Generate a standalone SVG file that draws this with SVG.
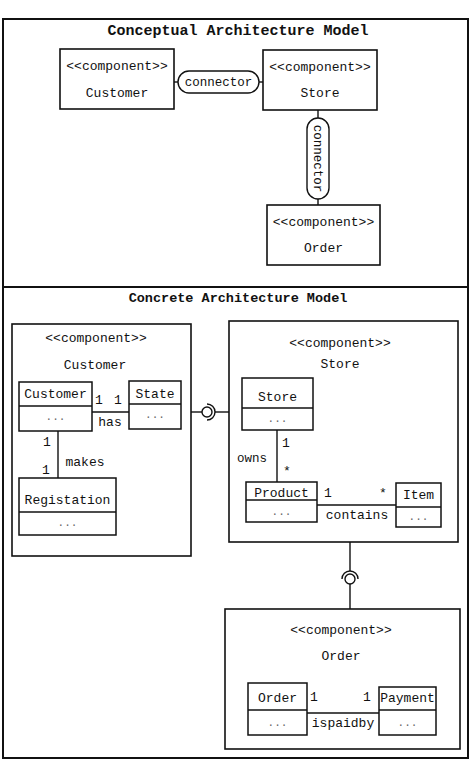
<svg xmlns="http://www.w3.org/2000/svg" width="474" height="768" viewBox="0 0 474 768">
<style>
text{font-family:"Liberation Mono","DejaVu Sans Mono",monospace;font-size:13px;fill:#111;text-anchor:middle}
.title{font-weight:bold;font-size:15px}
.t2{font-weight:bold;font-size:13.5px}
.dots{fill:#666;font-size:11px}
.lbl{font-size:12.5px}
.box{fill:#fff;stroke:#111;stroke-width:1.6}
.cls{fill:#fff;stroke:#111;stroke-width:1.5}
.ln{fill:none;stroke:#111;stroke-width:1.4}
.pill{fill:#fff;stroke:#111;stroke-width:1.4}
</style>
<rect x="0" y="0" width="474" height="768" fill="#fff"/>
<rect x="3" y="19" width="465" height="739" fill="none" stroke="#111" stroke-width="2"/>
<line x1="3" y1="287" x2="468" y2="287" stroke="#111" stroke-width="2"/>
<text class="title" x="238" y="35">Conceptual Architecture Model</text>
<text class="t2" x="238" y="302">Concrete Architecture Model</text>

<g id="c-customer">
<rect class="box" x="60" y="49" width="114" height="60"/>
<text x="117" y="70">&lt;&lt;component&gt;&gt;</text>
<text x="117" y="97">Customer</text>
</g>
<g id="c-store">
<rect class="box" x="263" y="50" width="114" height="60"/>
<text x="320" y="71">&lt;&lt;component&gt;&gt;</text>
<text x="320" y="97">Store</text>
</g>
<g id="c-order">
<rect class="box" x="267" y="205" width="113" height="60"/>
<text x="323.5" y="226">&lt;&lt;component&gt;&gt;</text>
<text x="323.5" y="252">Order</text>
</g>

<g id="customer-comp">
<rect class="box" x="12" y="324" width="179" height="232"/>
<text x="96" y="342">&lt;&lt;component&gt;&gt;</text>
<text x="95" y="369">Customer</text>
</g>
<g id="customer-class">
<rect class="cls" x="19" y="382" width="73" height="49"/>
<line class="ln" x1="19" y1="406" x2="92" y2="406"/>
<text x="55.5" y="398">Customer</text>
<text class="dots" x="55.5" y="420">...</text>
</g>
<g id="state-class">
<rect class="cls" x="129" y="381" width="52" height="48"/>
<line class="ln" x1="129" y1="404" x2="181" y2="404"/>
<text x="155" y="398">State</text>
<text class="dots" x="155" y="418">...</text>
</g>
<g id="registation-class">
<rect class="cls" x="19" y="478" width="97" height="57"/>
<line class="ln" x1="19" y1="512" x2="116" y2="512"/>
<text x="67.5" y="504">Registation</text>
<text class="dots" x="67.5" y="526">...</text>
</g>

<g id="store-comp">
<rect class="box" x="229" y="321" width="229" height="221"/>
<text x="340" y="347">&lt;&lt;component&gt;&gt;</text>
<text x="340" y="368">Store</text>
</g>
<g id="store-class">
<rect class="cls" x="242" y="378" width="71" height="52"/>
<line class="ln" x1="242" y1="408" x2="313" y2="408"/>
<text x="277.5" y="401">Store</text>
<text class="dots" x="277.5" y="422">...</text>
</g>
<g id="product-class">
<rect class="cls" x="246" y="482" width="71" height="40"/>
<line class="ln" x1="246" y1="500" x2="317" y2="500"/>
<text x="281.5" y="497">Product</text>
<text class="dots" x="281.5" y="515">...</text>
</g>
<g id="item-class">
<rect class="cls" x="396" y="483" width="45" height="44"/>
<line class="ln" x1="396" y1="507" x2="441" y2="507"/>
<text x="418.5" y="499">Item</text>
<text class="dots" x="418.5" y="520">...</text>
</g>

<g id="order-comp">
<rect class="box" x="225" y="609" width="235" height="140"/>
<text x="341" y="634">&lt;&lt;component&gt;&gt;</text>
<text x="341" y="660">Order</text>
</g>
<g id="order-class">
<rect class="cls" x="248" y="683" width="59" height="52"/>
<line class="ln" x1="248" y1="710" x2="307" y2="710"/>
<text x="277.5" y="702">Order</text>
<text class="dots" x="277.5" y="726">...</text>
</g>
<g id="payment-class">
<rect class="cls" x="379" y="687" width="57" height="48"/>
<line class="ln" x1="379" y1="710" x2="436" y2="710"/>
<text x="407.5" y="702">Payment</text>
<text class="dots" x="407.5" y="726">...</text>
</g>

<g id="connectors">
<line class="ln" x1="174" y1="82" x2="178" y2="82"/>
<line class="ln" x1="259" y1="82" x2="263" y2="82"/>
<rect class="pill" x="178" y="71" width="81" height="22" rx="11"/>
<text class="lbl" x="218.5" y="86">connector</text>
<line class="ln" x1="318" y1="110" x2="318" y2="118"/>
<line class="ln" x1="318" y1="199" x2="318" y2="205"/>
<rect class="pill" x="307" y="118" width="22" height="81" rx="11"/>
<text class="lbl" transform="translate(314,158.5) rotate(90)" x="0" y="0">connector</text>

<line class="ln" x1="191" y1="412" x2="202" y2="412"/>
<circle class="ln" cx="207" cy="412" r="5"/>
<path class="ln" d="M207 404 A8 8 0 0 1 207 420"/>
<line class="ln" x1="215" y1="412" x2="229" y2="412"/>

<line class="ln" x1="350" y1="542" x2="350" y2="571"/>
<path class="ln" d="M342 579 A8 8 0 0 1 358 579"/>
<circle class="ln" cx="350" cy="579" r="5"/>
<line class="ln" x1="350" y1="584" x2="350" y2="609"/>

<line class="ln" x1="92" y1="412" x2="129" y2="412"/>
<line class="ln" x1="58" y1="431" x2="58" y2="478"/>
<line class="ln" x1="277" y1="430" x2="277" y2="482"/>
<line class="ln" x1="317" y1="505" x2="396" y2="505"/>
<line class="ln" x1="307" y1="713" x2="379" y2="713"/>

<text x="99" y="404">1</text><text x="118" y="404">1</text><text x="110" y="426">has</text>
<text x="47" y="446">1</text><text x="46" y="474">1</text><text x="85" y="466">makes</text>
<text x="286" y="447">1</text><text x="287" y="475">*</text><text class="lbl" x="252" y="462">owns</text>
<text x="328" y="497">1</text><text x="383" y="497">*</text><text x="357" y="519">contains</text>
<text x="314" y="701">1</text><text x="367" y="701">1</text><text x="343" y="727">ispaidby</text>
</g>
</svg>
